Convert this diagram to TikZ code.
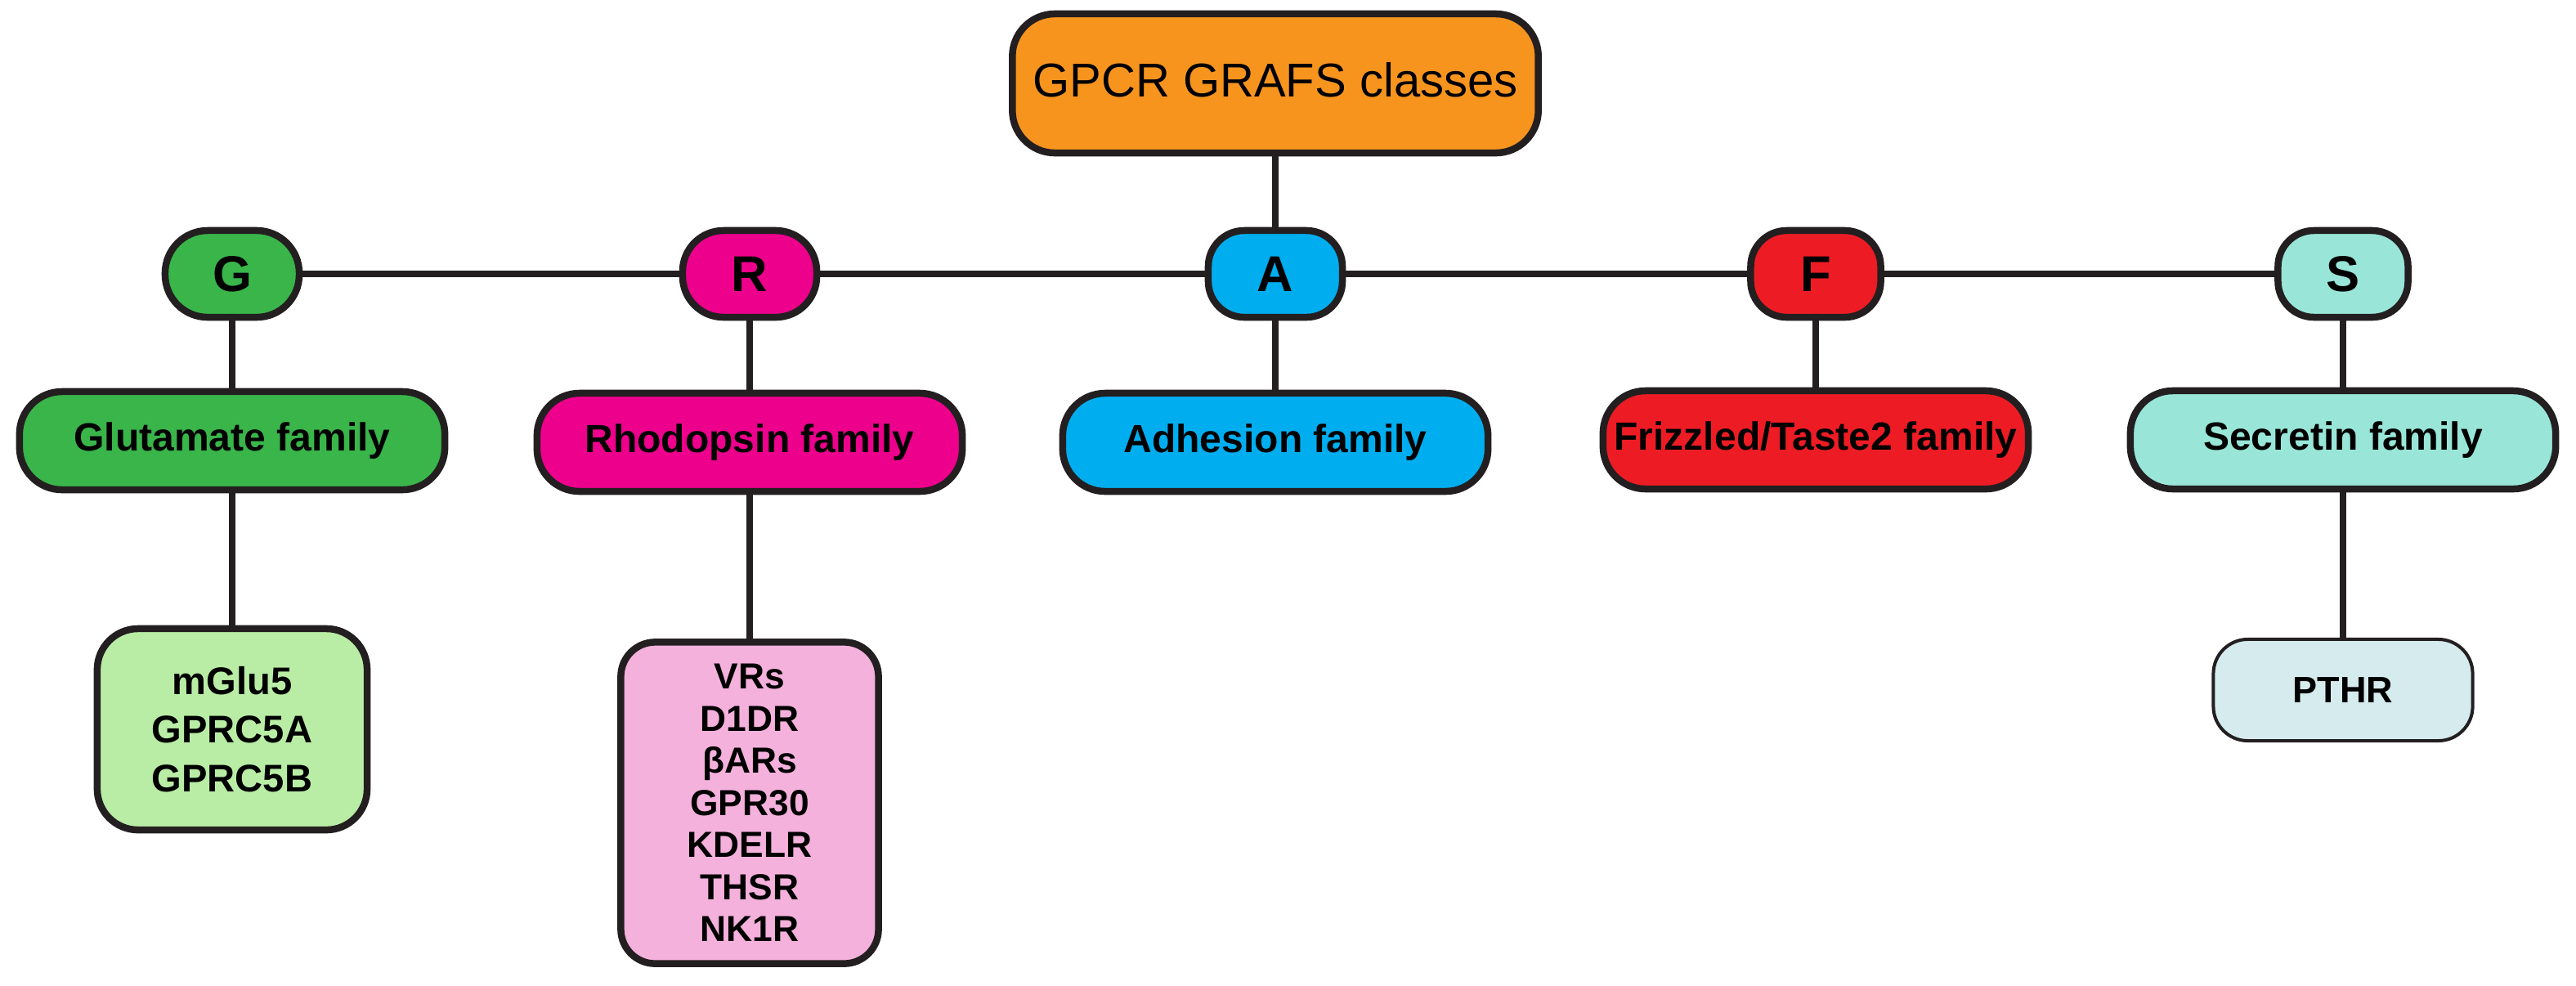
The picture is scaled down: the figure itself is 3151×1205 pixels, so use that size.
\documentclass[tikz,border=0pt]{standalone}
\usepackage{fontspec}
\setmainfont{Liberation Sans}
\definecolor{cborder}{HTML}{231F20}
\definecolor{corange}{HTML}{F7941E}
\definecolor{cgreen}{HTML}{39B54A}
\definecolor{cmagenta}{HTML}{EC008C}
\definecolor{cblue}{HTML}{00AEEF}
\definecolor{cred}{HTML}{ED1C24}
\definecolor{cteal}{HTML}{99E6D8}
\definecolor{clgreen}{HTML}{B9EDA5}
\definecolor{cpink}{HTML}{F4B1DC}
\definecolor{clblue}{HTML}{D6EBEE}
\begin{document}
\begin{tikzpicture}[x=0.01cm,y=-0.01cm,
  box/.style={draw=cborder, line width=0.085cm, rounded corners=0.5cm, inner sep=0pt, align=center, text=black},
  cls/.style={box, minimum width=1.64cm, minimum height=1.06cm, rounded corners=0.44cm, font=\fontsize{17.5}{20}\selectfont\bfseries},
  fam/.style={box, minimum width=5.20cm, minimum height=1.20cm, rounded corners=0.52cm, font=\fontsize{13.66}{16}\selectfont\bfseries},
  lst/.style={box, font=\fontsize{12.6}{14.65}\selectfont\bfseries},
  link/.style={draw=cborder, line width=0.085cm}]
\useasboundingbox (0,0) rectangle (3151,1205);
% top
\node[box, fill=corange, minimum width=6.43cm, minimum height=1.70cm, rounded corners=0.52cm,
      font=\fontsize{16.5}{20}\selectfont] (top) at (1560,102) {\raisebox{0.1cm}{GPCR GRAFS classes}};
% classes
\node[cls, fill=cgreen, rounded corners=0.52cm] (G) at (284,335) {G};
\node[cls, fill=cmagenta, rounded corners=0.5cm] (R) at (917,335) {R};
\node[cls, fill=cblue] (A) at (1560,335) {A};
\node[cls, fill=cred, minimum width=1.59cm] (F) at (2221,335) {F};
\node[cls, fill=cteal, minimum width=1.59cm] (S) at (2866,335) {S};
% families
\node[fam, fill=cgreen] (glu) at (284,539) {Glutamate family};
\node[fam, fill=cmagenta] (rho) at (917,541) {Rhodopsin family};
\node[fam, fill=cblue] (adh) at (1560,541) {Adhesion family};
\node[fam, fill=cred] (fri) at (2221,538) {Frizzled/Taste2 family};
\node[fam, fill=cteal] (sec) at (2866,538) {Secretin family};
% members
\node[lst, fill=clgreen, minimum width=3.30cm, minimum height=2.46cm,
      font=\fontsize{13.4}{17}\selectfont\bfseries] (mglu) at (284,892) {mGlu5\\GPRC5A\\GPRC5B};
\node[lst, fill=cpink, minimum width=3.15cm, minimum height=3.93cm, rounded corners=0.42cm] (vrs) at (917,982)
  {VRs\\D1DR\\βARs\\GPR30\\KDELR\\THSR\\NK1R};
\node[lst, fill=clblue, line width=0.04cm, minimum width=3.17cm, minimum height=1.24cm, rounded corners=0.42cm,
      font=\fontsize{12.8}{15}\selectfont\bfseries] (pthr) at (2866,844) {PTHR};
% connectors
\draw[link] (top) -- (A);
\draw[link] (G) -- (R) -- (A) -- (F) -- (S);
\draw[link] (G) -- (glu);
\draw[link] (R) -- (rho);
\draw[link] (A) -- (adh);
\draw[link] (F) -- (fri);
\draw[link] (S) -- (sec);
\draw[link] (glu) -- (mglu);
\draw[link] (rho) -- (vrs);
\draw[link] (sec) -- (pthr);
\end{tikzpicture}
\end{document}
